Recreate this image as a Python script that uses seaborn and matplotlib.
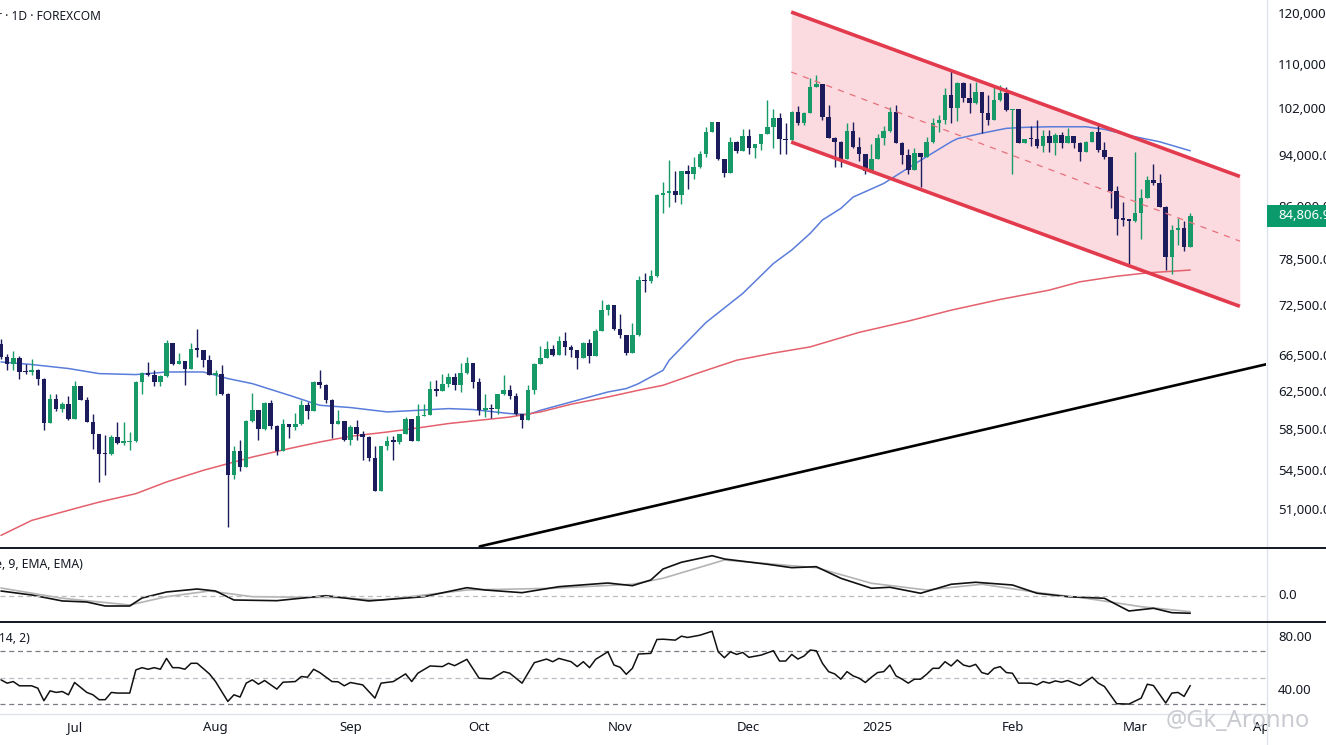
import numpy as np
import pandas as pd
import matplotlib
matplotlib.use("Agg")
import matplotlib.pyplot as plt
import matplotlib.transforms as mtransforms
from matplotlib.patches import Rectangle
from matplotlib.lines import Line2D
import seaborn as sns

# ---------------- data ----------------
first_open = 68000
closes = [66450, 65600, 66350, 64750, 64700, 64940, 64020, 59300, 61770, 60710,
          61310, 59670, 63170, 61730, 59380, 58200, 56230, 56200, 57870, 57310,
          57370, 57470, 63610, 64640, 64390, 63640, 64280, 68090, 65700, 66000,
          65140, 67350, 67300, 66080, 64460, 64570, 62380, 54160, 56480, 54940,
          59490, 60680, 58640, 61370, 58980, 56480, 59150, 58880, 59150, 61130,
          60500, 63640, 63280, 61740, 59150, 59460, 57540, 58880, 58140, 57870,
          55810, 52710, 56950, 57440, 57400, 58140, 59740, 57470, 59980, 60160,
          62920, 62680, 63400, 64200, 63280, 64640, 65770, 63640, 60600, 60820,
          60740, 62300, 62810, 62120, 60190, 59570, 62810, 65700, 66390, 67430,
          66730, 68270, 67550, 67230, 66340, 68090, 66540, 69480, 72130, 72670,
          69720, 69080, 66920, 69000, 75880, 75800, 76400, 87900, 88250, 88500,
          87900, 91670, 91150, 92310, 94310, 98070, 99730, 93500, 91360, 96340,
          94900, 97340, 95290, 95990, 97680, 98920, 100470, 96790, 96700, 101520,
          99500, 101340, 106010, 106430, 100650, 97060, 96390, 93550, 98190, 95460,
          94310, 91670, 93550, 96960, 98190, 101520, 96120, 94200, 91780, 94570,
          93920, 96390, 99610, 100050, 104500, 102220, 106740, 103900, 103000, 104980,
          101240, 100050, 103600, 104800, 101820, 101940, 96230, 96840, 96790, 95680,
          97340, 96230, 97510, 96230, 97340, 96230, 94730, 96390, 98070, 94990,
          93830, 88600, 84280, 84250, 84100, 85160, 87400, 90210, 89700, 86140,
          79000, 82740, 82980, 80340, 84806.9]
highs = [68600, 66850, 67100, 66550, 65700, 66270, 65140, 64100, 62300, 62300,
         61480, 62090, 63720, 63200, 62020, 60260, 58200, 58040, 58040, 59390,
         59390, 58370, 63720, 64750, 65880, 65020, 64390, 68400, 68090, 66960,
         66000, 68090, 69800, 67300, 66650, 65020, 65510, 62400, 56950, 57610,
         59550, 62490, 60680, 61450, 61640, 59050, 59740, 59150, 60320, 61710,
         61470, 63700, 64940, 63390, 61770, 60600, 59460, 59050, 59600, 58470,
         57940, 56950, 57000, 57940, 57940, 58200, 59900, 59740, 61310, 61310,
         63750, 63900, 64480, 64640, 64640, 65770, 66460, 65770, 64090, 62300,
         61240, 62350, 64390, 63280, 62490, 60260, 63280, 65750, 67700, 68270,
         67820, 68880, 69400, 67820, 67300, 68200, 68600, 69690, 73390, 72800,
         72670, 71550, 69080, 70410, 76400, 76850, 77200, 88000, 89940, 93390,
         91630, 91700, 92580, 93830, 94900, 98920, 99800, 99730, 93550, 97120,
         96500, 98480, 98480, 96050, 97750, 103600, 101940, 101340, 99500, 101600,
         102520, 101400, 107560, 108170, 106430, 102700, 97230, 96500, 99500, 99780,
         97120, 94310, 95990, 97680, 99040, 102400, 102700, 96390, 95140, 95290,
         94500, 97120, 100500, 100940, 105710, 109110, 106800, 106800, 106630, 106910,
         104980, 104500, 106300, 106300, 106010, 102000, 101820, 96900, 99040, 100050,
         98380, 98380, 97900, 98070, 98650, 97340, 96400, 96500, 98150, 99500,
         96390, 93830, 89280, 86870, 84150, 94730, 88770, 90830, 92740, 91150,
         86250, 83460, 84430, 84100, 85160]
lows = [66270, 65020, 64940, 64020, 64570, 64390, 63360, 58540, 59250, 60530,
        60430, 59600, 59900, 61640, 59350, 56720, 53540, 54160, 56070, 57210,
        57040, 56560, 57370, 62380, 64300, 63200, 63200, 64200, 65510, 65620,
        63360, 65140, 66460, 65320, 64400, 62200, 62200, 49530, 53850, 54560,
        54900, 59390, 57540, 58600, 58710, 56070, 56480, 57770, 58540, 59050,
        59670, 60500, 62990, 61380, 57770, 59150, 57500, 57110, 57540, 55580,
        55520, 52680, 52700, 56560, 55580, 57210, 58140, 57440, 57470, 59980,
        60080, 62090, 62680, 63100, 62810, 62550, 64570, 63030, 60080, 59900,
        59840, 60260, 62230, 61770, 60150, 58780, 59560, 62380, 65700, 66340,
        66540, 66730, 66730, 66460, 65140, 66340, 65810, 66540, 69480, 71430,
        69600, 68720, 66730, 66920, 68880, 74370, 75530, 76350, 85160, 86140,
        86870, 86630, 88770, 90320, 92150, 93830, 97970, 93450, 90630, 91360,
        94590, 94900, 94360, 93650, 94990, 97680, 95290, 94310, 94310, 96120,
        99210, 99210, 101240, 105880, 100050, 97000, 92200, 92310, 93550, 95290,
        93270, 91240, 91670, 93500, 95840, 98070, 96120, 92740, 91240, 91780,
        89170, 93920, 96230, 98070, 99380, 99500, 99930, 103290, 101240, 102880,
        97800, 99210, 100050, 103480, 101700, 91240, 96200, 96200, 95680, 95290,
        94730, 94730, 94200, 95290, 96230, 95290, 93270, 94730, 96390, 94730,
        93500, 85900, 82030, 83300, 78060, 83900, 81420, 87400, 89400, 86140,
        77200, 76680, 80620, 79800, 80340]

# moving averages (bar number -> value)
ma50_bar = [0, 5, 11, 16, 22, 27, 33, 37, 41, 47, 52, 57, 63, 68, 73, 77, 83, 86, 88, 93,
            99, 102, 104, 108, 109, 115, 121, 126, 129, 132, 134, 137, 139, 144, 149, 155,
            156, 160, 164, 167, 171, 177, 180, 185, 189, 194]
ma50_val = [65880, 65590, 65140, 64570, 64460, 64750, 64750, 64020, 63460, 62200, 61130,
            60890, 60430, 60600, 60780, 60680, 60260, 60160, 60600, 61480, 62550, 62920,
            63460, 64940, 66080, 70530, 74160, 78100, 79950, 82270, 84200, 85900, 87600,
            89690, 92740, 96390, 96900, 97820, 98650, 98820, 98920, 98920, 98480, 97230,
            96390, 94900]
ma200_bar = [0, 5, 11, 16, 22, 27, 33, 37, 41, 47, 52, 57, 63, 68, 73, 83, 88, 93, 99, 104,
             108, 114, 120, 126, 132, 140, 148, 155, 163, 171, 176, 182, 187, 194]
ma200_val = [48820, 50100, 50980, 51710, 52470, 53540, 54630, 55260, 55900, 56720, 57370,
             57940, 58370, 58780, 59230, 59900, 60430, 61240, 62010, 62740, 63280, 64700,
             66080, 66900, 67620, 69340, 70700, 72050, 73400, 74590, 75670, 76400, 76850,
             77220]

# drawn channel and trend line (bar number, price)
channel_bar = [128.9, 202.1]
channel_upper = [120620, 90780]
channel_mid = [108740, 81180]
channel_lower = [96340, 72530]
trend_bar = [78.1, 206.4]
trend_price = [47900, 65620]

# MACD
macd_bar = [0, 5, 10, 14, 17, 21, 23, 27, 32, 35, 38, 45, 53, 60, 69, 76, 79, 85, 91, 99,
            103, 106, 108, 111, 116, 118, 125, 129, 133, 137, 142, 145, 150, 155, 159, 165,
            169, 174, 180, 184, 188, 191, 194]
macd_val = [890, 130, -1000, -1200, -1960, -1960, -440, 700, 1270, 890, -820, -950, 0,
            -1000, -190, 1520, 1080, 570, 1710, 2410, 1900, 2980, 5070, 6350, 7600, 6970,
            5970, 5320, 5510, 3310, 1410, 1600, 460, 2170, 2550, 2030, 460, -190, -490,
            -2910, -2390, -3230, -3340]
signal_bar = [0, 10, 21, 27, 34, 41, 55, 62, 76, 90, 103, 108, 118, 129, 133, 142, 151,
              160, 170, 177, 186, 194]
signal_val = [1460, -490, -1770, -190, 890, -190, -380, -820, 1080, 1410, 2170, 3310,
              6780, 5700, 5320, 2360, 1080, 2170, 460, -490, -2090, -3040]

# RSI
rsi_bar = [0, 1, 2, 3, 5, 6, 7, 8, 9, 10, 11, 12, 14, 15, 16, 17, 18, 19, 21, 22, 23, 24,
           25, 26, 27, 28, 29, 30, 31, 32, 34, 35, 37, 38, 39, 40, 41, 42, 43, 45, 46, 48,
           49, 50, 51, 52, 54, 55, 56, 57, 59, 61, 62, 64, 66, 67, 68, 70, 72, 73, 74, 76,
           78, 80, 82, 83, 85, 87, 89, 90, 91, 93, 94, 95, 96, 97, 99, 100, 101, 102, 103,
           104, 106, 107, 108, 110, 111, 112, 114, 116, 117, 118, 119, 120, 121, 122, 124,
           126, 127, 128, 129, 130, 131, 132, 133, 134, 135, 136, 137, 138, 139, 140, 141,
           142, 143, 144, 145, 146, 147, 148, 149, 150, 151, 152, 153, 154, 155, 156, 157,
           158, 159, 160, 161, 162, 163, 164, 165, 166, 168, 169, 170, 171, 172, 173, 174,
           176, 178, 179, 180, 182, 184, 186, 187, 188, 190, 191, 192, 193, 194]
rsi_val = [48.3, 45.8, 47, 43.8, 43.8, 42, 32.5, 40, 38.8, 39.5, 37, 46.3, 38.8, 37, 33.3,
           33.3, 38.8, 38.3, 38.3, 55.8, 57.5, 56.3, 57.5, 56.3, 64.5, 57.5, 57.5, 56.3,
           60.8, 60.8, 52.8, 47, 32, 37, 35.3, 45.8, 48.3, 45, 47.8, 41.3, 46.5, 47, 50.8,
           50.3, 56.3, 53.8, 47, 46.8, 43.8, 46.3, 44.5, 34.5, 45.8, 47, 52.8, 47, 53.3,
           58.8, 58.3, 60.8, 59, 63.8, 49.5, 49, 54.5, 53.3, 45.8, 61.3, 64, 62, 64.5, 62,
           58.3, 62, 57.5, 63.8, 69.5, 59.5, 57.8, 52.5, 57, 67.8, 68.3, 78.8, 79, 78.3,
           81.3, 80.3, 82, 85, 69.5, 65, 69.5, 67.5, 69, 65.3, 67, 70.3, 62.5, 62.5, 67.5,
           64, 66.3, 70.8, 70.3, 60.8, 54.5, 52.8, 48.8, 54.5, 51.3, 49.5, 46.3, 50.3, 53.8,
           54.5, 59.5, 51.3, 48.8, 45.8, 48.8, 48.8, 52.5, 57, 57, 62, 58.8, 63.3, 59.5,
           58.3, 60, 53.8, 52.5, 57, 58.3, 53.8, 53.3, 45.8, 45.8, 44.5, 47, 45.8, 47.5,
           46.5, 47.8, 44, 50.3, 45.8, 43.3, 30.3, 30, 34.5, 45, 44, 30.8, 38.3, 38.8,
           35.8, 44]

price_ticks = [120000, 110000, 102000, 94000, 86000, 78500, 72500, 66500, 62500, 58500,
               54500, 51000]
rsi_ticks = [80, 40]
rsi_levels = [70, 50, 30]
holidays = ["2024-12-25", "2025-01-01"]
title_text = "Bitcoin / U.S. Dollar · 1D · FOREXCOM"
macd_text = "MACD (12, 26, close, 9, EMA, EMA)"
rsi_text = "RSI (close, 14, 2)"
watermark = "@Gk_Aronno"

# ---------------- styling ----------------
sns.set_theme(style="white")
plt.rcParams["font.family"] = ["Noto Sans", "DejaVu Sans"]
TXT = "#131722"
BULL = "#179a68"
BEAR = "#1c1b5c"
W, H = 1326, 745
fig = plt.figure(figsize=(W / 100, H / 100), dpi=100)
fig.patch.set_facecolor("white")


def px_axes(x0, y0, x1, y1):
    return fig.add_axes([x0 / W, 1 - y1 / H, (x1 - x0) / W, (y1 - y0) / H])


ax = px_axes(0, 0, 1266, 547)
axm = px_axes(0, 548, 1266, 621)
axr = px_axes(0, 622, 1266, 713)
for a in (ax, axm, axr):
    a.set_facecolor("white")
    for s in a.spines.values():
        s.set_visible(False)

closes_a = np.array(closes, float)
opens_a = np.r_[first_open, closes_a[:-1]]
n = len(closes_a)
bars = np.arange(n)
hi = np.maximum(np.array(highs, float), np.maximum(opens_a, closes_a))
lo = np.minimum(np.array(lows, float), np.minimum(opens_a, closes_a))
up = closes_a >= opens_a
cols = np.where(up, BULL, BEAR)

# channel fill
ax.fill_between(channel_bar, channel_lower, channel_upper, color="#fbdbe0", lw=0, zorder=1)

# moving averages (seaborn)
sns.lineplot(x=ma50_bar, y=ma50_val, ax=ax, color="#5a7ddb", lw=1.1, zorder=2, estimator=None)
sns.lineplot(x=ma200_bar, y=ma200_val, ax=ax, color="#e4606d", lw=1.1, zorder=2, estimator=None)

# candles
ax.vlines(bars, lo, hi, colors=cols, lw=1.0, zorder=3)
body_lo = np.minimum(opens_a, closes_a)
body_hi = np.maximum(np.maximum(opens_a, closes_a), body_lo * 1.0022)
ax.bar(bars, body_hi - body_lo, bottom=body_lo, width=0.74, color=cols, lw=0, zorder=4)

# channel lines
ax.plot(channel_bar, channel_upper, color="#e33b4e", lw=2.6, zorder=5, solid_capstyle="butt")
ax.plot(channel_bar, channel_lower, color="#e33b4e", lw=2.6, zorder=5, solid_capstyle="butt")
ax.plot(channel_bar, channel_mid, color="#e6707c", lw=0.9, ls=(0, (5, 5)), zorder=5)
# trend line
ax.plot(trend_bar, trend_price, color="black", lw=1.9, zorder=5)

x_lo, x_hi = -0.163, 206.36
ax.set_yscale("log")
ax.set_ylim(47850, 123150)
ax.set_xlim(x_lo, x_hi)
ax.set_xticks([]); ax.set_yticks([]); ax.minorticks_off()
ax.set_xlabel(""); ax.set_ylabel("")

# MACD pane
sns.lineplot(x=signal_bar, y=signal_val, ax=axm, color="#b4b4b4", lw=1.2, estimator=None)
sns.lineplot(x=macd_bar, y=macd_val, ax=axm, color="#111111", lw=1.2, estimator=None)
axm.axhline(0, color="#b8bcc4", lw=0.9, ls=(0, (4, 3)))
axm.set_xlim(x_lo, x_hi)
axm.set_ylim(-4810, 9060)
axm.set_xticks([]); axm.set_yticks([])
axm.set_xlabel(""); axm.set_ylabel("")

# RSI pane
for lv in rsi_levels:
    axr.axhline(lv, color="#787b86" if lv != 50 else "#b8bcc4", lw=0.9, ls=(0, (4, 3)))
sns.lineplot(x=rsi_bar, y=rsi_val, ax=axr, color="#111111", lw=1.1, estimator=None)
axr.set_xlim(x_lo, x_hi)
axr.set_ylim(23.25, 92)
axr.set_yticks([])
axr.set_xlabel(""); axr.set_ylabel("")

# month ticks from a weekday calendar (holidays removed)
cal = pd.bdate_range("2024-06-13", "2025-04-30")
cal = cal[~cal.isin(pd.to_datetime(holidays))]
pos = pd.Series(np.arange(len(cal)), index=cal)
firsts = pos.groupby([cal.year, cal.month]).first()
tick_pos, tick_lab = [], []
for (yy, mm), p in firsts.items():
    if 0 < p <= x_hi:
        tick_pos.append(p)
        tick_lab.append(str(yy) if mm == 1 else pd.Timestamp(yy, mm, 1).strftime("%b"))
axr.set_xticks(tick_pos)
axr.set_xticklabels(tick_lab)
axr.tick_params(axis="x", length=0, pad=6, labelsize=9.5, labelcolor=TXT)
for t in axr.get_xticklabels():
    if t.get_text().isdigit():
        t.set_fontweight("bold")

# ---------------- figure-level decorations ----------------
# cover right price-scale area
fig.patches.append(Rectangle((1266.5 / W, 0), (W - 1266.5) / W, 1, transform=fig.transFigure,
                             facecolor="white", edgecolor="none", zorder=5))
fig.lines.append(Line2D([1266.5 / W] * 2, [0, 1], transform=fig.transFigure,
                        color="#e0e3eb", lw=1.0, zorder=6))
for yy in (547.5, 621.5):
    fig.lines.append(Line2D([0, 1], [1 - yy / H] * 2, transform=fig.transFigure,
                            color="#131722", lw=1.4, zorder=6))
fig.lines.append(Line2D([0, 1266 / W], [1 - 713.5 / H] * 2, transform=fig.transFigure,
                        color="#e0e3eb", lw=1.0, zorder=6))

lab_x = 1278 / W
bt = mtransforms.blended_transform_factory(fig.transFigure, ax.transData)
for p in price_ticks:
    fig.text(lab_x, p, f"{p:,.1f}", transform=bt, ha="left", va="center",
             fontsize=9.5, color=TXT, zorder=7)
# last price box
last = closes[-1]
bbox_y = ax.transData.transform((0, last))[1] / (H)
fig.patches.append(Rectangle((1266.5 / W, bbox_y - 11 / H), (W - 1266.5) / W, 22 / H,
                             transform=fig.transFigure, facecolor="#0b9a6b",
                             edgecolor="none", zorder=8))
fig.text(lab_x, last, f"{last:,.1f}", transform=bt, ha="left", va="center",
         fontsize=9.5, color="white", fontweight="bold", zorder=9)

bm = mtransforms.blended_transform_factory(fig.transFigure, axm.transData)
fig.text(lab_x, 0, "0.0", transform=bm, ha="left", va="center", fontsize=9.5, color=TXT, zorder=7)
br = mtransforms.blended_transform_factory(fig.transFigure, axr.transData)
for v in rsi_ticks:
    fig.text(lab_x, v, f"{v:.2f}", transform=br, ha="left", va="center",
             fontsize=9.5, color=TXT, zorder=7)

fig.text(101 / W, 1 - 16 / H, title_text, ha="right", va="center", fontsize=8.6,
         color=TXT, fontweight="semibold", zorder=7)
fig.text(83 / W, 1 - 565 / H, macd_text, ha="right", va="center", fontsize=8.8,
         color=TXT, zorder=7)
fig.text(30 / W, 1 - 639 / H, rsi_text, ha="right", va="center", fontsize=8.8,
         color=TXT, zorder=7)
fig.text(1166 / W, 1 - 721 / H, watermark, ha="left", va="center", fontsize=17,
         color="#c3c6cc", alpha=0.9, zorder=10)

fig.savefig("out.png", dpi=100, facecolor="white")
